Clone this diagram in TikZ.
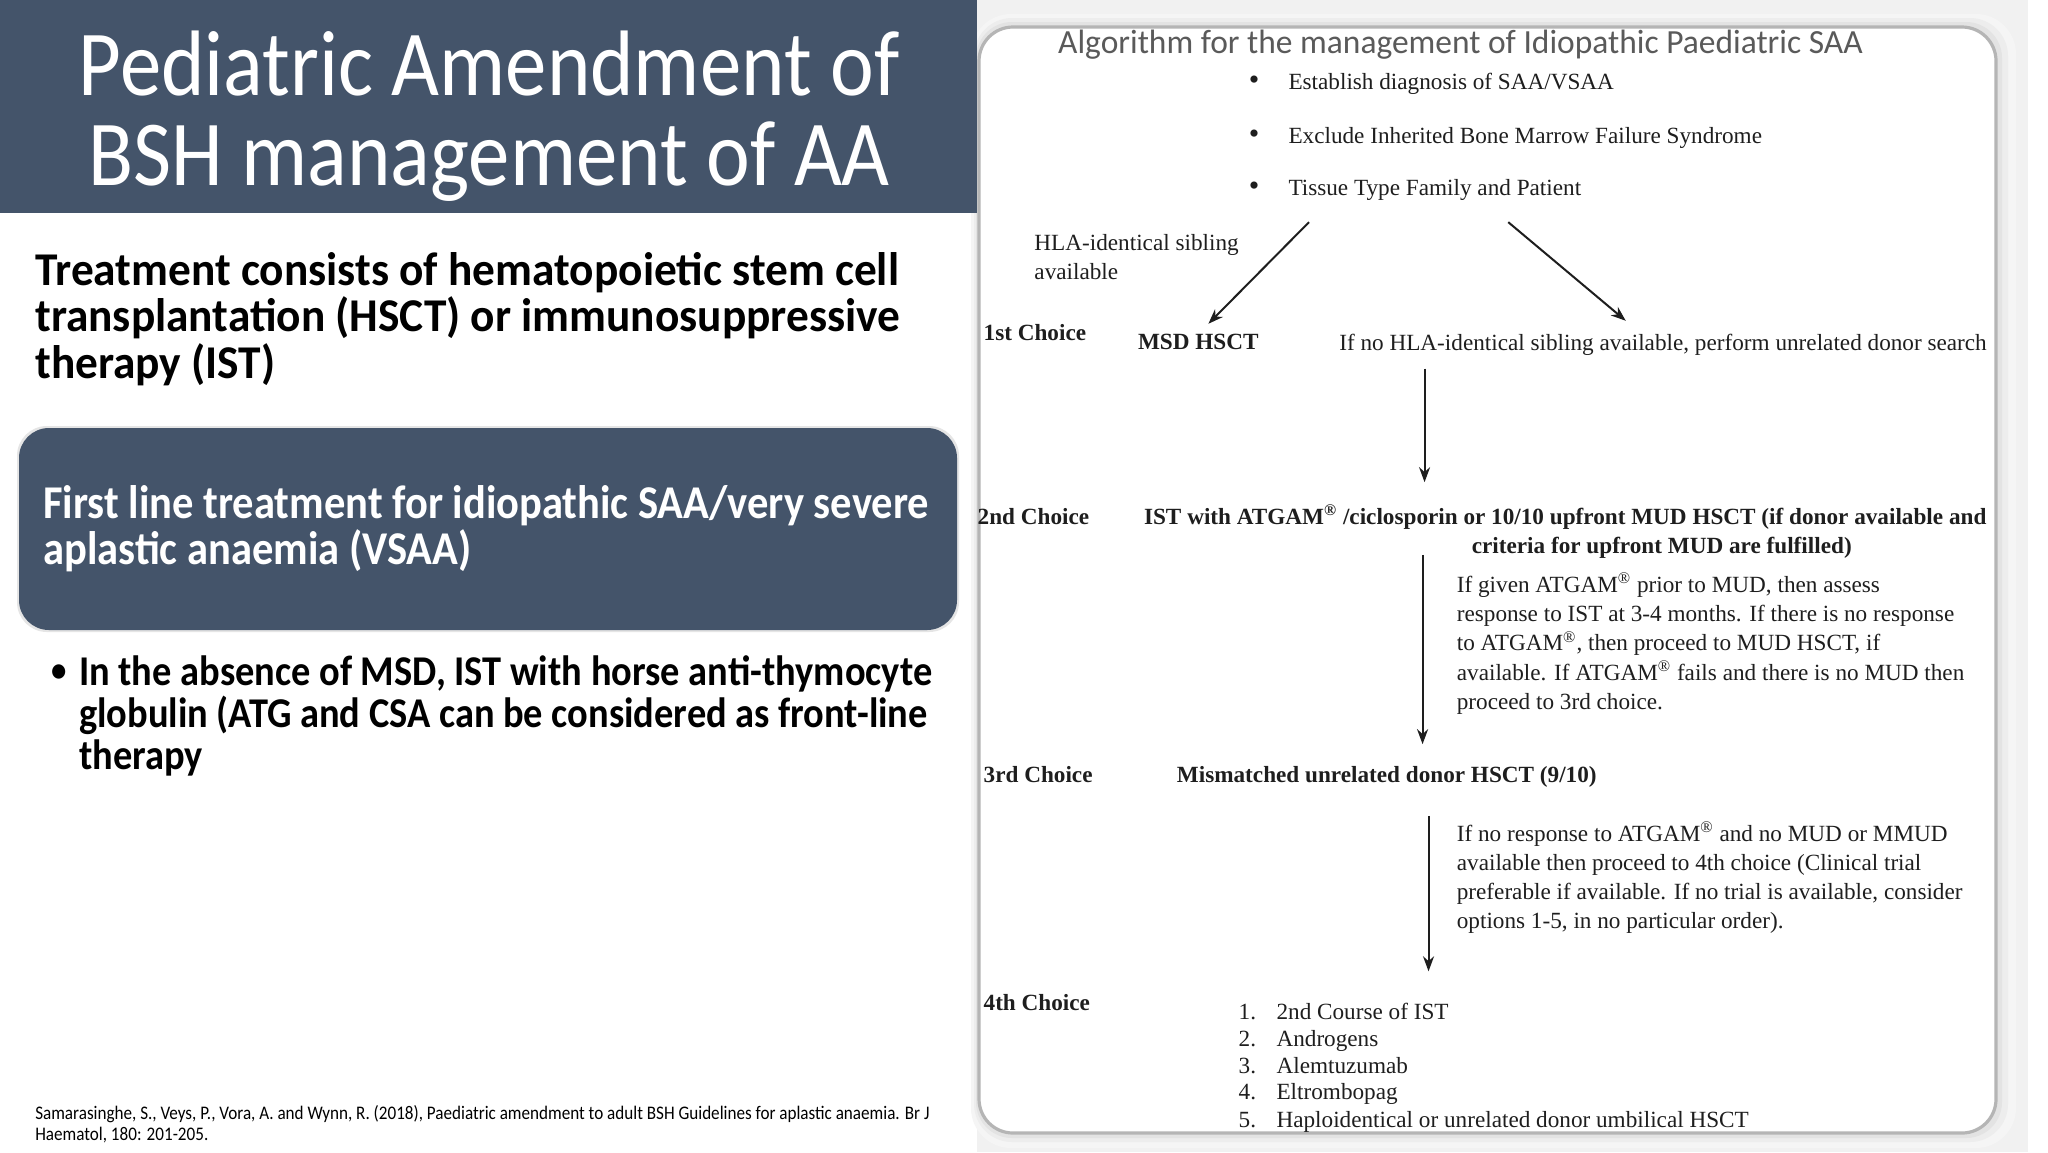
\documentclass[tikz,border=0pt]{standalone}
\usepackage{fontspec}
\setmainfont{Carlito}
\newfontfamily\serifalg{Liberation Serif}
\newfontfamily\titlefont[FakeStretch=0.89]{Carlito}
\newfontfamily\introfont[FakeStretch=0.965]{Carlito}
\newfontfamily\boxfont[FakeStretch=0.905]{Carlito}
\newfontfamily\bulletfont[FakeStretch=0.906]{Carlito}
\newfontfamily\citefont[FakeStretch=0.891]{Carlito}
\newfontfamily\algtitlefont[FakeStretch=0.99]{Carlito}
\usetikzlibrary{arrows.meta}
\definecolor{slate}{HTML}{44546A}
\definecolor{algtext}{HTML}{1E1E1E}
\definecolor{algtitle}{HTML}{5A5A5A}
\definecolor{panelgray}{HTML}{F1F1F1}
\definecolor{cardborder}{HTML}{B5B5B5}
\begin{document}
\begin{tikzpicture}[x=0.5pt,y=-0.5pt,
  arr/.style={draw=algtext, line width=1pt, -{Stealth[length=7.5pt,width=5.5pt]}},
  alg/.style={font=\serifalg\fontsize{11.6}{14.6}\selectfont, text=algtext, inner sep=0pt, anchor=west, align=left},
  algline/.style={alg, text height=8.2pt, text depth=2.6pt},
  algb/.style={algline, font=\serifalg\bfseries\fontsize{11.6}{14.6}\selectfont},
  algdot/.style={algline, anchor=center, font=\serifalg\fontsize{15}{15}\selectfont},
  slidetitle/.style={font=\titlefont\fontsize{46.5}{50}\selectfont, text=white, inner sep=0pt, text height=31pt, text depth=9pt},
  lefttext/.style={font=\introfont\bfseries\fontsize{23.5}{23.25}\selectfont, text=black, inner sep=0pt, anchor=west, align=left},
  boxtext/.style={font=\boxfont\bfseries\fontsize{23.5}{23}\selectfont, text=white, inner sep=0pt, anchor=west, align=left},
  bullettext/.style={font=\bulletfont\bfseries\fontsize{21.2}{21}\selectfont, text=black, inner sep=0pt, anchor=west, align=left},
  cite/.style={font=\citefont\fontsize{9.6}{10.5}\selectfont, text=black, inner sep=0pt, anchor=west, align=left}
]
\useasboundingbox (0,0) rectangle (2048,1152);
\fill[white] (0,0) rectangle (2048,1152);

% ---------- right: grey panel and algorithm card ----------
\fill[panelgray] (977,0) rectangle (2028,1152);
\fill[black!4, rounded corners=20pt] (971,14) rectangle (2016,1148);
\fill[black!7, rounded corners=19pt] (974,18) rectangle (2008,1142);
\fill[black!11, rounded corners=18pt] (976,22) rectangle (2002,1138);
\filldraw[draw=cardborder, line width=1.6pt, fill=white, rounded corners=17pt] (979,27) rectangle (1996,1133);

% ---------- left: title band ----------
\fill[slate] (0,0) rectangle (977,213);

% rounded box
\fill[black!10, rounded corners=15pt] (17,426) rectangle (959,632);
\fill[slate, rounded corners=15pt] (19,428) rectangle (957,630);

\begin{scope}[scale=0.9962]
\node[slidetitle] (title1) at (491,74) {Pediatric Amendment of};
\node[slidetitle] (title2) at (491,164) {BSH management of AA};

\node[lefttext] (intro) at (35,320) {Treatment consists of hematopoietic stem cell\\transplantation (HSCT) or immunosuppressive\\therapy (IST)};

\node[boxtext] (firstline) at (43,531) {First line treatment for idiopathic SAA/very severe\\aplastic anaemia (VSAA)};

\node[bullettext, font=\bulletfont\bfseries\fontsize{17}{17}\selectfont] (bulletdot) at (51,676) {\textbullet};
\node[bullettext] (bullet) at (79,719) {In the absence of MSD, IST with horse anti-thymocyte\\globulin (ATG and CSA can be considered as front-line\\therapy};

\node[cite] (citation) at (35,1128) {Samarasinghe, S., Veys, P., Vora, A. and Wynn, R. (2018), Paediatric amendment to adult BSH Guidelines for aplastic anaemia. Br J\\Haematol, 180: 201-205.};

% ---------- algorithm ----------
\node[font=\algtitlefont\fontsize{16.9}{20}\selectfont, text=algtitle, inner sep=0pt] (algtitle) at (1466,45) {Algorithm for the management of Idiopathic Paediatric SAA};

\node[algdot] (d1) at (1259,84) {\textbullet};
\node[algline] (s1) at (1293,84) {Establish diagnosis of SAA/VSAA};
\node[algdot] (d2) at (1259,138) {\textbullet};
\node[algline] (s2) at (1293,138) {Exclude Inherited Bone Marrow Failure Syndrome};
\node[algdot] (d3) at (1259,191) {\textbullet};
\node[algline] (s3) at (1293,191) {Tissue Type Family and Patient};

\node[alg] (hla) at (1038,258) {HLA-identical sibling\\available};

\node[algb] (c1) at (987,336) {1st Choice};
\node[algb] (msd) at (1142,345) {MSD HSCT};
\node[algline] (search) at (1344,346) {If no HLA-identical sibling available, perform unrelated donor search};

\coordinate (l0) at (1314,223);
\coordinate (l1) at (1213,325);
\coordinate (r0) at (1514,223);
\coordinate (r1) at (1632,322);
\draw[arr] (l0) -- (l1);
\draw[arr] (r0) -- (r1);

\coordinate (v1s) at (1430,370);
\coordinate (v1e) at (1430,484);
\draw[arr] (v1s) -- (v1e);

\node[algb] (c2) at (981,521) {2nd Choice};
\node[algb] (ist) at (1148,521) {IST with ATGAM\textsuperscript{®} /ciclosporin or 10/10 upfront MUD HSCT (if donor available and};
\node[algb] (ist2) at (1477,550) {criteria for upfront MUD are fulfilled)};

\coordinate (v2s) at (1428,557);
\coordinate (v2e) at (1428,747);
\draw[arr] (v2s) -- (v2e);

\node[alg] (note1) at (1462,646) {If given ATGAM\textsuperscript{®} prior to MUD, then assess\\response to IST at 3-4 months. If there is no response\\to ATGAM\textsuperscript{®}, then proceed to MUD HSCT, if\\available. If ATGAM\textsuperscript{®} fails and there is no MUD then\\proceed to 3rd choice.};

\node[algb] (c3) at (987,780) {3rd Choice};
\node[algb] (mmud) at (1181,780) {Mismatched unrelated donor HSCT (9/10)};

\coordinate (v3s) at (1434,819);
\coordinate (v3e) at (1434,975);
\draw[arr] (v3s) -- (v3e);

\node[alg] (note2) at (1462,881) {If no response to ATGAM\textsuperscript{®} and no MUD or MMUD\\available then proceed to 4th choice (Clinical trial\\preferable if available. If no trial is available, consider\\options 1-5, in no particular order).};

\node[algb] (c4) at (987,1009) {4th Choice};
\node[algline] (n1) at (1243,1018) {1.};
\node[algline] (o1) at (1281,1018) {2nd Course of IST};
\node[algline] (n2) at (1243,1045) {2.};
\node[algline] (o2) at (1281,1045) {Androgens};
\node[algline] (n3) at (1243,1072) {3.};
\node[algline] (o3) at (1281,1072) {Alemtuzumab};
\node[algline] (n4) at (1243,1098) {4.};
\node[algline] (o4) at (1281,1098) {Eltrombopag};
\node[algline] (n5) at (1243,1126) {5.};
\node[algline] (o5) at (1281,1126) {Haploidentical or unrelated donor umbilical HSCT};
\end{scope}
\end{tikzpicture}
\end{document}
